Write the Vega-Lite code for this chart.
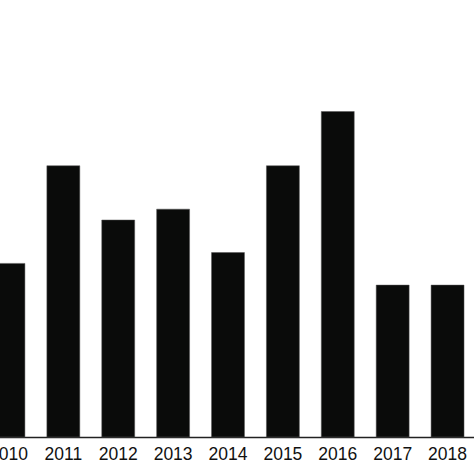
{
  "$schema": "https://vega.github.io/schema/vega-lite/v6.json",
  "autosize": {"type": "none"},
  "padding": {"left": -19, "top": 3, "right": 0, "bottom": 37},
  "width": 494,
  "height": 434,
  "background": "white",
  "config": {"view": {"stroke": null}, "font": "Liberation Sans"},
  "data": {"values": [
    {"year": "2010", "value": 16},
    {"year": "2011", "value": 25},
    {"year": "2012", "value": 20},
    {"year": "2013", "value": 21},
    {"year": "2014", "value": 17},
    {"year": "2015", "value": 25},
    {"year": "2016", "value": 30},
    {"year": "2017", "value": 14},
    {"year": "2018", "value": 14}
  ]},
  "mark": {"type": "bar", "color": "#0a0b0a", "stroke": "#555", "strokeWidth": 0.5},
  "encoding": {
    "x": {
      "field": "year", "type": "ordinal",
      "scale": {"paddingInner": 0.4, "paddingOuter": 0.2},
      "axis": {"title": null, "labelAngle": 0, "labelFontSize": 17.5, "labelColor": "#111", "ticks": false, "labelPadding": 8, "domainColor": "#222", "domainWidth": 1.5, "grid": false}
    },
    "y": {
      "field": "value", "type": "quantitative",
      "scale": {"domain": [0, 40]},
      "axis": null
    }
  }
}
